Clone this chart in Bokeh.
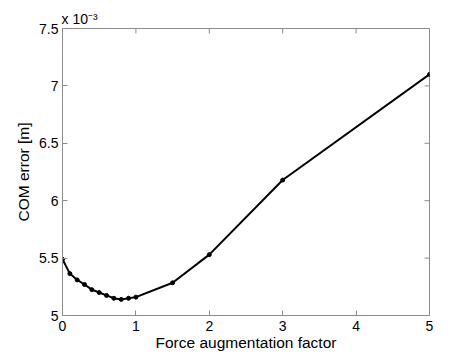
import math
from bokeh.plotting import figure
from bokeh.models import FixedTicker, Title
from bokeh.embed import file_html
from bokeh.resources import INLINE

factor = [0, 0.1, 0.2, 0.3, 0.4, 0.5, 0.6, 0.7, 0.8, 0.9, 1.0, 1.5, 2, 3, 5]
com_error = [5.49, 5.365, 5.31, 5.27, 5.225, 5.20, 5.175, 5.15, 5.14, 5.15, 5.16, 5.285, 5.53, 6.18, 7.10]
x_ticks = [0, 1, 2, 3, 4, 5]
y_ticks = [5, 5.5, 6, 6.5, 7, 7.5]
x_min, x_max = 0, 5
y_min, y_max = 5, 7.5

FONT = "Liberation Sans"
AX = "#8c8c8c"

p = figure(width=474, height=355, x_range=(x_min, x_max), y_range=(y_min, y_max),
           output_backend="svg", toolbar_location=None,
           min_border_left=62, min_border_right=45, min_border_top=28, min_border_bottom=40,
           x_axis_label="Force augmentation factor", y_axis_label="COM error [m]")
p.grid.visible = False
p.outline_line_color = AX
p.background_fill_color = "white"
p.border_fill_color = "white"

for ax in p.xaxis + p.yaxis:
    ax.axis_line_color = AX
    ax.major_tick_line_color = AX
    ax.major_tick_in = 5
    ax.major_tick_out = 0
    ax.minor_tick_line_color = None
    ax.major_label_text_font = FONT
    ax.major_label_text_font_size = "14px"
    ax.major_label_text_color = "black"
    ax.axis_label_text_font = FONT
    ax.axis_label_text_font_size = "15.5px"
    ax.axis_label_text_font_style = "normal"
    ax.axis_label_text_color = "black"
p.xaxis.ticker = FixedTicker(ticks=x_ticks)
p.yaxis.ticker = FixedTicker(ticks=y_ticks)
p.xaxis.major_label_standoff = 5
p.xaxis.axis_label_standoff = 0
p.yaxis.major_label_standoff = 4
p.yaxis.axis_label_standoff = 4

# inward ticks on the top and right edges of the box
p.ray(x=x_ticks, y=[y_max] * len(x_ticks), length=5, length_units="screen",
      angle=-math.pi / 2, line_color=AX, line_width=1)
p.ray(x=[x_max] * len(y_ticks), y=y_ticks, length=5, length_units="screen",
      angle=math.pi, line_color=AX, line_width=1)

p.line(factor, com_error, line_color="black", line_width=2)
p.scatter(factor, com_error, size=4, color="black")

p.add_layout(Title(text="x 10\u207b\u00b3", text_font=FONT, text_font_size="14px",
                   text_font_style="normal", text_color="black", align="left",
                   offset=-1, standoff=3), "above")

open("out.html", "w").write(file_html(p, INLINE))
